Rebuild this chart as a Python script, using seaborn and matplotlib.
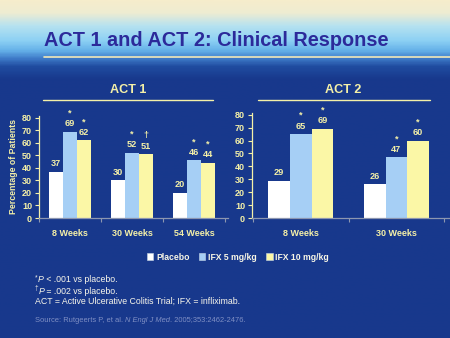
import numpy as np
import pandas as pd
import matplotlib
matplotlib.use("Agg")
import matplotlib.pyplot as plt
import seaborn as sns
from matplotlib.colors import LinearSegmentedColormap
from matplotlib.patches import Patch

# ---------------- data ----------------
series = ["Placebo", "IFX 5 mg/kg", "IFX 10 mg/kg"]
colors = ["#ffffff", "#a6cff5", "#fbf7a6"]

act1_weeks = ["8 Weeks", "30 Weeks", "54 Weeks"]
act1_placebo = [37, 30, 20]
act1_ifx5 = [69, 52, 46]
act1_ifx10 = [62, 51, 44]
act1_sig = [["", "", ""], ["*", "*", "*"], ["*", "\u2020", "*"]]

act2_weeks = ["8 Weeks", "30 Weeks"]
act2_placebo = [29, 26]
act2_ifx5 = [65, 47]
act2_ifx10 = [69, 60]
act2_sig = [["", ""], ["*", "*"], ["*", "*"]]

yticks = [0, 10, 20, 30, 40, 50, 60, 70, 80]

title = "ACT 1 and ACT 2: Clinical Response"
foot1 = [("*", "sup"), ("P", "it"), (" < .001 vs placebo.", "rm")]
foot2 = [("\u2020", "sup"), ("P", "it"), (" = .002 vs placebo.", "rm")]
foot3 = [("ACT = Active Ulcerative Colitis Trial; IFX = infliximab.", "rm")]
source = [("Source: Rutgeerts P, et al. ", "rm"), ("N Engl J Med", "it"),
          (". 2005;353:2462-2476.", "rm")]


def long_df(weeks, vals):
    rows = []
    for s, v in zip(series, vals):
        for w, x in zip(weeks, v):
            rows.append({"week": w, "series": s, "value": x})
    return pd.DataFrame(rows)


df1 = long_df(act1_weeks, [act1_placebo, act1_ifx5, act1_ifx10])
df2 = long_df(act2_weeks, [act2_placebo, act2_ifx5, act2_ifx10])

# ---------------- style ----------------
sns.set_theme(style="white")
plt.rcParams["font.family"] = ["Liberation Sans", "DejaVu Sans"]

YEL = "#f4f0a8"
BG = "#18388c"
W, H = 450, 338

fig = plt.figure(figsize=(4.5, 3.38), dpi=100)
fig.patch.set_facecolor(BG)

# background gradient
bg = fig.add_axes([0, 0, 1, 1], zorder=-10)
stops = [
    (0.0, (246, 237, 204)),
    (12 / H, (238, 236, 210)),
    (25 / H, (182, 226, 240)),
    (40 / H, (140, 208, 244)),
    (50 / H, (100, 176, 232)),
    (58 / H, (62, 122, 200)),
    (66 / H, (32, 76, 160)),
    (78 / H, (24, 57, 141)),
    (1.0, (24, 56, 140)),
]
cmap = LinearSegmentedColormap.from_list("bg", [(p, tuple(c / 255 for c in col)) for p, col in stops])
grad = np.linspace(0, 1, 600).reshape(-1, 1)
bg.imshow(grad, cmap=cmap, aspect="auto", extent=[0, 1, 0, 1], origin="upper")
bg.set_xlim(0, 1)
bg.set_ylim(0, 1)
bg.axis("off")


def fx(px):
    return px / W


def fy(py):
    return 1 - py / H


# title
fig.text(fx(44), fy(40), title, fontsize=14.3, fontweight="bold", color="#2c2a9a",
         ha="left", va="center")
fig.add_artist(plt.Line2D([fx(44), 1.0], [fy(57), fy(57)], color="#f2e8b8", lw=1.2))


def draw_panel(rect, df, weeks, sigs, xlim, ylab):
    ax = fig.add_axes(rect)
    sns.barplot(data=df, x="week", y="value", hue="series", order=weeks, hue_order=series,
                palette=colors, width=0.68, saturation=1, ax=ax, legend=False,
                edgecolor="none", linewidth=0)
    ax.set_facecolor("none")
    ax.set_ylim(0, 81.5)
    ax.set_xlim(*xlim)
    ax.set_yticks(yticks)
    ax.set_yticklabels([str(t) for t in yticks], fontsize=6.5, fontweight="bold", color=YEL)
    ax.tick_params(axis="y", colors=YEL, length=3, width=0.8, direction="out", pad=2,
                   labelcolor=YEL, left=True)
    ax.tick_params(axis="x", length=0, pad=8, labelcolor=YEL)
    for lbl in ax.get_xticklabels():
        lbl.set_fontsize(6.5)
        lbl.set_fontweight("bold")
    n = len(weeks)
    ax.set_xticks([i + 0.5 for i in range(-1, n)], minor=True)
    ax.tick_params(axis="x", which="minor", length=3, width=0.8, color="#8c96b0",
                   direction="out", bottom=True)
    ax.set_xlabel("")
    if ylab:
        ax.set_ylabel(ylab, fontsize=6.3, fontweight="bold", color=YEL, labelpad=3)
    else:
        ax.set_ylabel("")
    for s in ["top", "right"]:
        ax.spines[s].set_visible(False)
    ax.spines["left"].set_color(YEL)
    ax.spines["left"].set_linewidth(0.9)
    ax.spines["bottom"].set_color("#8c96b0")
    ax.spines["bottom"].set_linewidth(0.9)
    ax.grid(False)
    for ci, cont in enumerate(ax.containers):
        for bi, bar in enumerate(cont):
            x = bar.get_x() + bar.get_width() / 2
            h = bar.get_height()
            ax.annotate(f"{h:.0f}", (x, h), xytext=(0, 5.8), textcoords="offset points",
                        ha="center", va="center", fontsize=6.6, fontweight="bold", color=YEL)
            sg = sigs[ci][bi]
            if sg:
                ax.annotate(sg, (x, h), xytext=(0, 13.5), textcoords="offset points",
                            ha="center", va="center", fontsize=6.5, fontweight="bold",
                            color=YEL)
    return ax


ax1 = draw_panel([fx(39), fy(218), fx(189), 102 / H], df1, act1_weeks, act1_sig,
                 (-0.5, 2.55), "Percentage of Patients")
ax2 = draw_panel([fx(252), fy(218), fx(197), 105.2 / H], df2, act2_weeks, act2_sig,
                 (-0.51, 1.55), None)

# panel titles
fig.text(fx(128), fy(90), "ACT 1", fontsize=9.1, fontweight="bold", color=YEL,
         ha="center", va="center")
fig.add_artist(plt.Line2D([fx(43), fx(213)], [fy(99.5), fy(99.5)], color=YEL, lw=1.0))
fig.text(fx(343), fy(90), "ACT 2", fontsize=9.1, fontweight="bold", color=YEL,
         ha="center", va="center")
fig.add_artist(plt.Line2D([fx(258), fx(430)], [fy(100), fy(100)], color=YEL, lw=1.0))

# legend
handles = [Patch(facecolor=c, edgecolor="#c8d8e8", linewidth=0.4, label=s)
           for c, s in zip(colors, series)]
leg = fig.legend(handles=handles, loc="center", bbox_to_anchor=(fx(238), fy(257)),
                 ncol=3, frameon=False, fontsize=6.2, handlelength=0.75, handleheight=0.75,
                 handletextpad=0.3, columnspacing=1.1, borderaxespad=0, borderpad=0)
for t in leg.get_texts():
    t.set_color("#f8f6e6")
    t.set_fontweight("bold")

# footnotes, drawn piece by piece
renderer = fig.canvas.get_renderer()


def rich_line(pieces, x0, py, size, color):
    x = x0
    for txt, kind in pieces:
        if kind == "sup":
            t = fig.text(x / W, fy(py - 2.2), txt, fontsize=size * 0.75, color=color,
                         ha="left", va="center")
        else:
            t = fig.text(x / W, fy(py), txt, fontsize=size, color=color, ha="left",
                         va="center", style="italic" if kind == "it" else "normal")
        bb = t.get_window_extent(renderer=renderer)
        x += bb.width


rich_line(foot1, 35, 280, 6.3, "#f8f6ea")
rich_line(foot2, 35, 291, 6.3, "#f8f6ea")
rich_line(foot3, 35, 301.5, 6.3, "#f8f6ea")
rich_line(source, 35, 320, 5.4, "#7f8fc4")

fig.savefig("out.png", dpi=100, facecolor=fig.get_facecolor())
